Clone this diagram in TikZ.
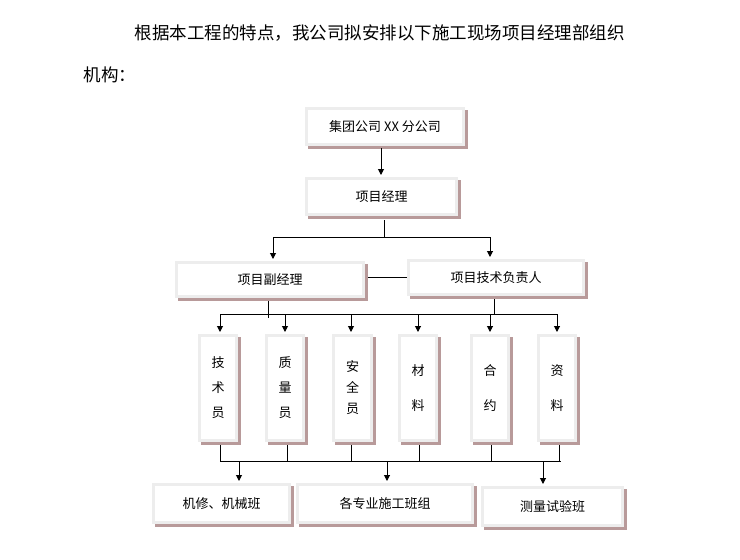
\documentclass[tikz,border=0pt]{standalone}
\usepackage{fontspec}
\setmainfont{Liberation Serif}
\newfontfamily\cjk{Noto Sans CJK SC}
\usetikzlibrary{arrows.meta}
\definecolor{shad}{HTML}{B89A9A}
\definecolor{rim}{HTML}{EDEDED}
\tikzset{
  x=1pt,y=-1pt,
  bx/.style={draw=rim,line width=3pt,fill=white,inner sep=0pt,font=\cjk\fontsize{13}{15}\selectfont},
  ln/.style={line width=1pt},
  ar/.style={ln,-{Triangle[length=6pt,width=6pt]}}
}
\newcommand{\boxat}[6]{% name, x1,y1,x2,y2,text
  \fill[shad] (#2+3,#3+3) rectangle (#4+3,#5+3);
  \node[bx,minimum width=#4-#2-3,minimum height=#5-#3-3,align=center] (#1) at ({(#2+#4)/2},{(#3+#5)/2}) {#6};
}
\begin{document}
\begin{tikzpicture}
\useasboundingbox (0,0) rectangle (740,560);
\node[font=\cjk\fontsize{17.5}{20}\selectfont,anchor=west] (h1) at (131,33) {根据本工程的特点，我公司拟安排以下施工现场项目经理部组织};
\node[font=\cjk\fontsize{17.5}{20}\selectfont,anchor=west] (h2) at (80,75) {机构：};
\boxat{a}{305}{107}{465}{146}{集团公司 XX 分公司}
\boxat{b}{305}{177}{458}{216}{项目经理}
\boxat{c}{175}{261}{365}{298}{项目副经理}
\boxat{d}{407}{259}{585}{296}{项目技术负责人}
\boxat{v1}{198}{334}{238}{442}{技\\[10pt]术\\[10pt]员}
\boxat{v2}{265}{334}{305}{442}{质\\[10pt]量\\[10pt]员}
\boxat{v3}{332}{334}{373}{442}{安\\[6pt]全\\[6pt]员}
\boxat{v4}{398}{334}{438}{442}{材\\[20pt]料}
\boxat{v5}{470}{334}{510}{442}{合\\[20pt]约}
\boxat{v6}{537}{334}{577}{442}{资\\[20pt]料}
\boxat{e1}{152}{483}{291}{524}{机修、机械班}
\boxat{e2}{296}{483}{474}{524}{各专业施工班组}
\boxat{e3}{481}{486}{624}{527}{测量试验班}
\draw[ar] (381,148) -- (381,175);
\draw[ln] (384,220) -- (384,237);
\draw[ln] (273,237) -- (490,237);
\draw[ar] (273,237) -- (273,259);
\draw[ar] (490,237) -- (490,257);
\draw[ln] (368,277) -- (407,277);
\draw[ln] (268,301) -- (268,318);
\draw[ln] (494,299) -- (494,314);
\draw[ln] (220,314) -- (557,314);
\foreach \x in {220,285,351,418,490,557} \draw[ar] (\x,314) -- (\x,332);
\foreach \x in {220,287,351,419,491,559} \draw[ln] (\x,445) -- (\x,461);
\draw[ln] (220,461) -- (561,461);
\draw[ar] (239,461) -- (239,481);
\draw[ar] (387,461) -- (387,481);
\draw[ar] (543,461) -- (543,484);
\end{tikzpicture}
\end{document}
